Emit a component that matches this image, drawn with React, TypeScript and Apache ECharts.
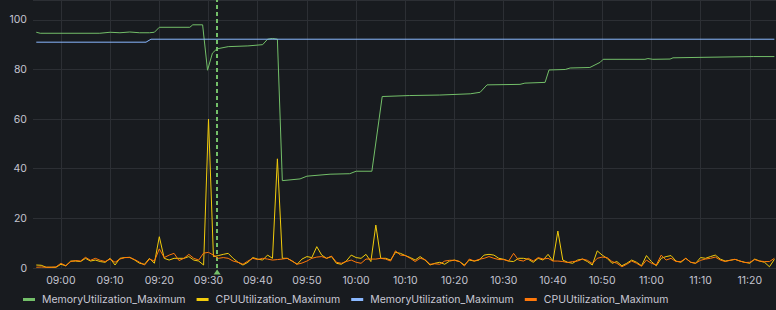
import React, { useEffect, useRef } from "react";
import * as echarts from "echarts";

// minutes relative to 09:00
const memATimes = [-5, -4.2, 7.9, 10, 12, 14, 16, 18, 19, 20, 26.2, 26.8, 28.8, 29.8, 30.8, 31.7, 34, 38, 41, 42, 43, 44, 45, 48.6, 50, 54.7, 58.7, 60, 63.2, 65.3, 70.9, 77, 83.2, 85.2, 86.6, 93.3, 94.3, 98.4, 99.2, 102.5, 103.5, 107.5, 109.6, 110.2, 118.7, 119.3, 120.3, 123.8, 124.4, 130.5, 140.7, 145];
const memAValues = [95.0, 94.6, 94.6, 95.0, 94.8, 95.1, 94.8, 94.8, 95.0, 97.0, 97.0, 98.0, 98.0, 79.7, 86.6, 88.3, 89.2, 89.5, 90.0, 92.2, 92.5, 92.2, 35.2, 35.9, 37.0, 37.8, 38.0, 39.0, 39.0, 69.1, 69.5, 69.7, 70.2, 70.8, 73.8, 74.0, 74.5, 74.8, 79.8, 80.0, 80.6, 80.8, 82.9, 84.1, 84.1, 84.4, 84.1, 84.2, 84.7, 84.9, 85.2, 85.2];

const memBTimes = [-5, 17.3, 18.3, 145];
const memBValues = [91.0, 91.0, 92.2, 92.2];

// CPU series: one value per minute from 08:55 (minute -5) to 11:25 (minute 145)
const cpuStart = -5;
const cpuAValues = [
  1.2, 1.1, 0.3, 0.3, 0.3, 1.5, 0.9, 2.8, 2.8, 2.6,
  3.9, 2.8, 3.2, 2.6, 2.3, 3.9, 1.2, 3.9, 4.2, 4.3,
  3.2, 1.9, 1.5, 3.9, 1.9, 12.6, 3.9, 3.2, 3.9, 3.9,
  3.9, 4.6, 3.2, 2.8, 1.2, 60, 4.6, 5.0, 5.5, 5.9,
  3.9, 2.3, 1.2, 2.3, 4.2, 3.6, 3.2, 5.2, 3.9, 44,
  3.9, 3.9, 2.8, 1.5, 3.6, 4.6, 4.2, 8.6, 5.2, 3.9,
  4.6, 1.9, 1.5, 2.8, 5.2, 4.2, 3.9, 5.5, 2.6, 17.3,
  3.9, 3.9, 3.2, 6.3, 5.9, 5.0, 4.2, 3.2, 4.6, 3.2,
  1.2, 1.9, 2.3, 1.5, 2.8, 3.2, 2.6, 1.2, 3.2, 2.8,
  3.2, 5.2, 5.5, 5.2, 3.9, 3.5, 2.8, 2.6, 3.9, 3.9,
  3.5, 2.3, 3.9, 3.2, 5.5, 2.8, 14.9, 3.2, 2.3, 1.9,
  3.2, 3.6, 2.6, 1.2, 6.9, 5.2, 3.9, 1.9, 2.6, 0.9,
  1.9, 3.2, 2.3, 0.9, 5.0, 2.6, 0.9, 3.9, 4.6, 5.0,
  2.8, 2.3, 3.9, 2.3, 1.9, 4.2, 3.9, 4.6, 5.2, 3.6,
  2.8, 3.1, 3.5, 2.8, 2.3, 1.9, 3.6, 2.8, 2.3, 0.5,
  3.5,
];
const cpuBValues = [
  0.3, 0.4, 0.3, 0.3, 0.4, 1.9, 0.9, 2.6, 3.0, 2.8,
  4.3, 3.1, 3.9, 3.1, 2.6, 3.6, 2.3, 3.6, 4.2, 4.2,
  3.4, 2.3, 1.2, 3.6, 2.8, 7.7, 4.2, 5.2, 5.9, 3.0,
  3.9, 5.5, 3.9, 3.2, 6.0, 6.3, 5.2, 3.9, 4.2, 3.9,
  2.8, 2.3, 1.5, 2.8, 3.9, 3.4, 3.9, 3.6, 3.2, 3.4,
  3.6, 3.9, 2.8, 1.5, 2.0, 2.8, 3.9, 4.4, 4.6, 3.9,
  4.8, 2.3, 1.9, 2.6, 3.2, 2.3, 1.9, 3.6, 3.6, 3.6,
  3.9, 3.6, 2.8, 6.9, 5.2, 5.0, 3.9, 2.6, 3.9, 3.4,
  1.5, 1.7, 1.5, 2.8, 3.1, 3.1, 2.6, 0.8, 3.6, 2.8,
  3.5, 3.9, 4.6, 3.9, 3.4, 3.4, 2.8, 5.9, 3.2, 2.8,
  3.9, 2.8, 4.2, 3.6, 3.9, 2.8, 2.8, 2.6, 2.2, 2.6,
  2.8, 3.6, 3.1, 1.8, 3.9, 4.4, 4.2, 2.6, 1.9, 0.5,
  1.5, 2.8, 1.9, 0.7, 3.2, 1.9, 1.2, 5.2, 3.2, 3.9,
  2.6, 2.6, 3.9, 2.3, 1.9, 3.1, 3.6, 3.9, 4.4, 3.2,
  2.6, 3.1, 3.5, 2.8, 2.2, 2.3, 3.4, 2.8, 2.6, 2.6,
  3.9,
];

const annotationMinute = 31.75;
const xTickMinutes = [0, 10, 20, 30, 40, 50, 60, 70, 80, 90, 100, 110, 120, 130, 140];
const xTickLabels = ["09:00", "09:10", "09:20", "09:30", "09:40", "09:50", "10:00", "10:10", "10:20", "10:30", "10:40", "10:50", "11:00", "11:10", "11:20"];
const yTicks = [0, 20, 40, 60, 80, 100];
const legendNames = ["MemoryUtilization_Maximum", "CPUUtilization_Maximum", "MemoryUtilization_Maximum", "CPUUtilization_Maximum"];
const seriesColors = ["#73bf69", "#f2cc0c", "#8ab8ff", "#ff780a"];

export default function App() {
  const ref = useRef<HTMLDivElement>(null);
  useEffect(() => {
    if (!ref.current) return;
    const chart = echarts.init(ref.current, undefined, { renderer: "svg" });
    const memA = memATimes.map((t, i) => [t, memAValues[i]]);
    const memB = memBTimes.map((t, i) => [t, memBValues[i]]);
    const cpuA = cpuAValues.map((v, i) => [cpuStart + i, v]);
    const cpuB = cpuBValues.map((v, i) => [cpuStart + i, v]);
    const datas = [memA, cpuA, memB, cpuB];
    const font = "Inter, 'Noto Sans', sans-serif";
    const fs = 10.5;
    const labelColor = "#c4c4d0";
    const gridColor = "#2c2f34";
    chart.setOption({
      animation: false,
      backgroundColor: "#181b1f",
      textStyle: { fontFamily: font },
      grid: { left: 33, right: 0, top: 0, bottom: 42, containLabel: false },
      legend: {
        left: 18,
        bottom: 0,
        icon: "rect",
        itemWidth: 12,
        itemHeight: 3,
        itemGap: 11,
        textStyle: { color: "#c8c8d4", fontSize: fs, fontFamily: font, padding: [0, 0, 0, 2] },
        data: legendNames.map((n, i) => ({ name: n + (i >= 2 ? " " : ""), itemStyle: { color: seriesColors[i] } })),
        formatter: (n: string) => n.trim(),
        selectedMode: false,
      },
      xAxis: {
        type: "value",
        min: -5.67,
        max: 145.33,
        axisLine: { show: false },
        axisTick: { show: false, customValues: xTickMinutes },
        splitLine: { show: true, lineStyle: { color: gridColor, width: 1 } },
        axisLabel: {
          customValues: xTickMinutes,
          color: labelColor,
          fontSize: fs,
          fontFamily: font,
          margin: 7,
          formatter: (v: number) => {
            const idx = xTickMinutes.indexOf(Math.round(v));
            return idx >= 0 ? xTickLabels[idx] : "";
          },
        },
      },
      yAxis: {
        type: "value",
        min: 0,
        max: 108,
        interval: 20,
        axisLine: { show: false },
        axisTick: { show: false },
        splitLine: { show: true, lineStyle: { color: gridColor, width: 1 } },
        axisLabel: {
          color: labelColor,
          fontSize: fs,
          fontFamily: font,
          margin: 6,
          showMaxLabel: false,
          formatter: (v: number) => (yTicks.includes(v) ? String(v) : ""),
        },
      },
      series: datas.map((d, i) => ({
        name: legendNames[i] + (i >= 2 ? " " : ""),
        type: "line",
        data: d,
        showSymbol: false,
        symbol: "none",
        lineStyle: { color: seriesColors[i], width: 1 },
        itemStyle: { color: seriesColors[i] },
        z: 2 + i,
        ...(i === 0
          ? {
              markLine: {
                silent: true,
                symbol: ["none", "none"],
                label: { show: false },
                lineStyle: { color: "#73bf69", width: 2, type: [4, 3] },
                data: [{ xAxis: annotationMinute }],
              },
              markPoint: {
                silent: true,
                symbol: "triangle",
                symbolSize: [7, 5],
                symbolOffset: [0, 4],
                label: { show: false },
                itemStyle: { color: "#73bf69" },
                data: [{ coord: [annotationMinute, 0] }],
              },
            }
          : {}),
      })),
    });
    return () => chart.dispose();
  }, []);
  return (
    <div
      ref={ref}
      style={{ position: "fixed", left: 0, top: 0, width: 776, height: 310, background: "#181b1f" }}
    />
  );
}
